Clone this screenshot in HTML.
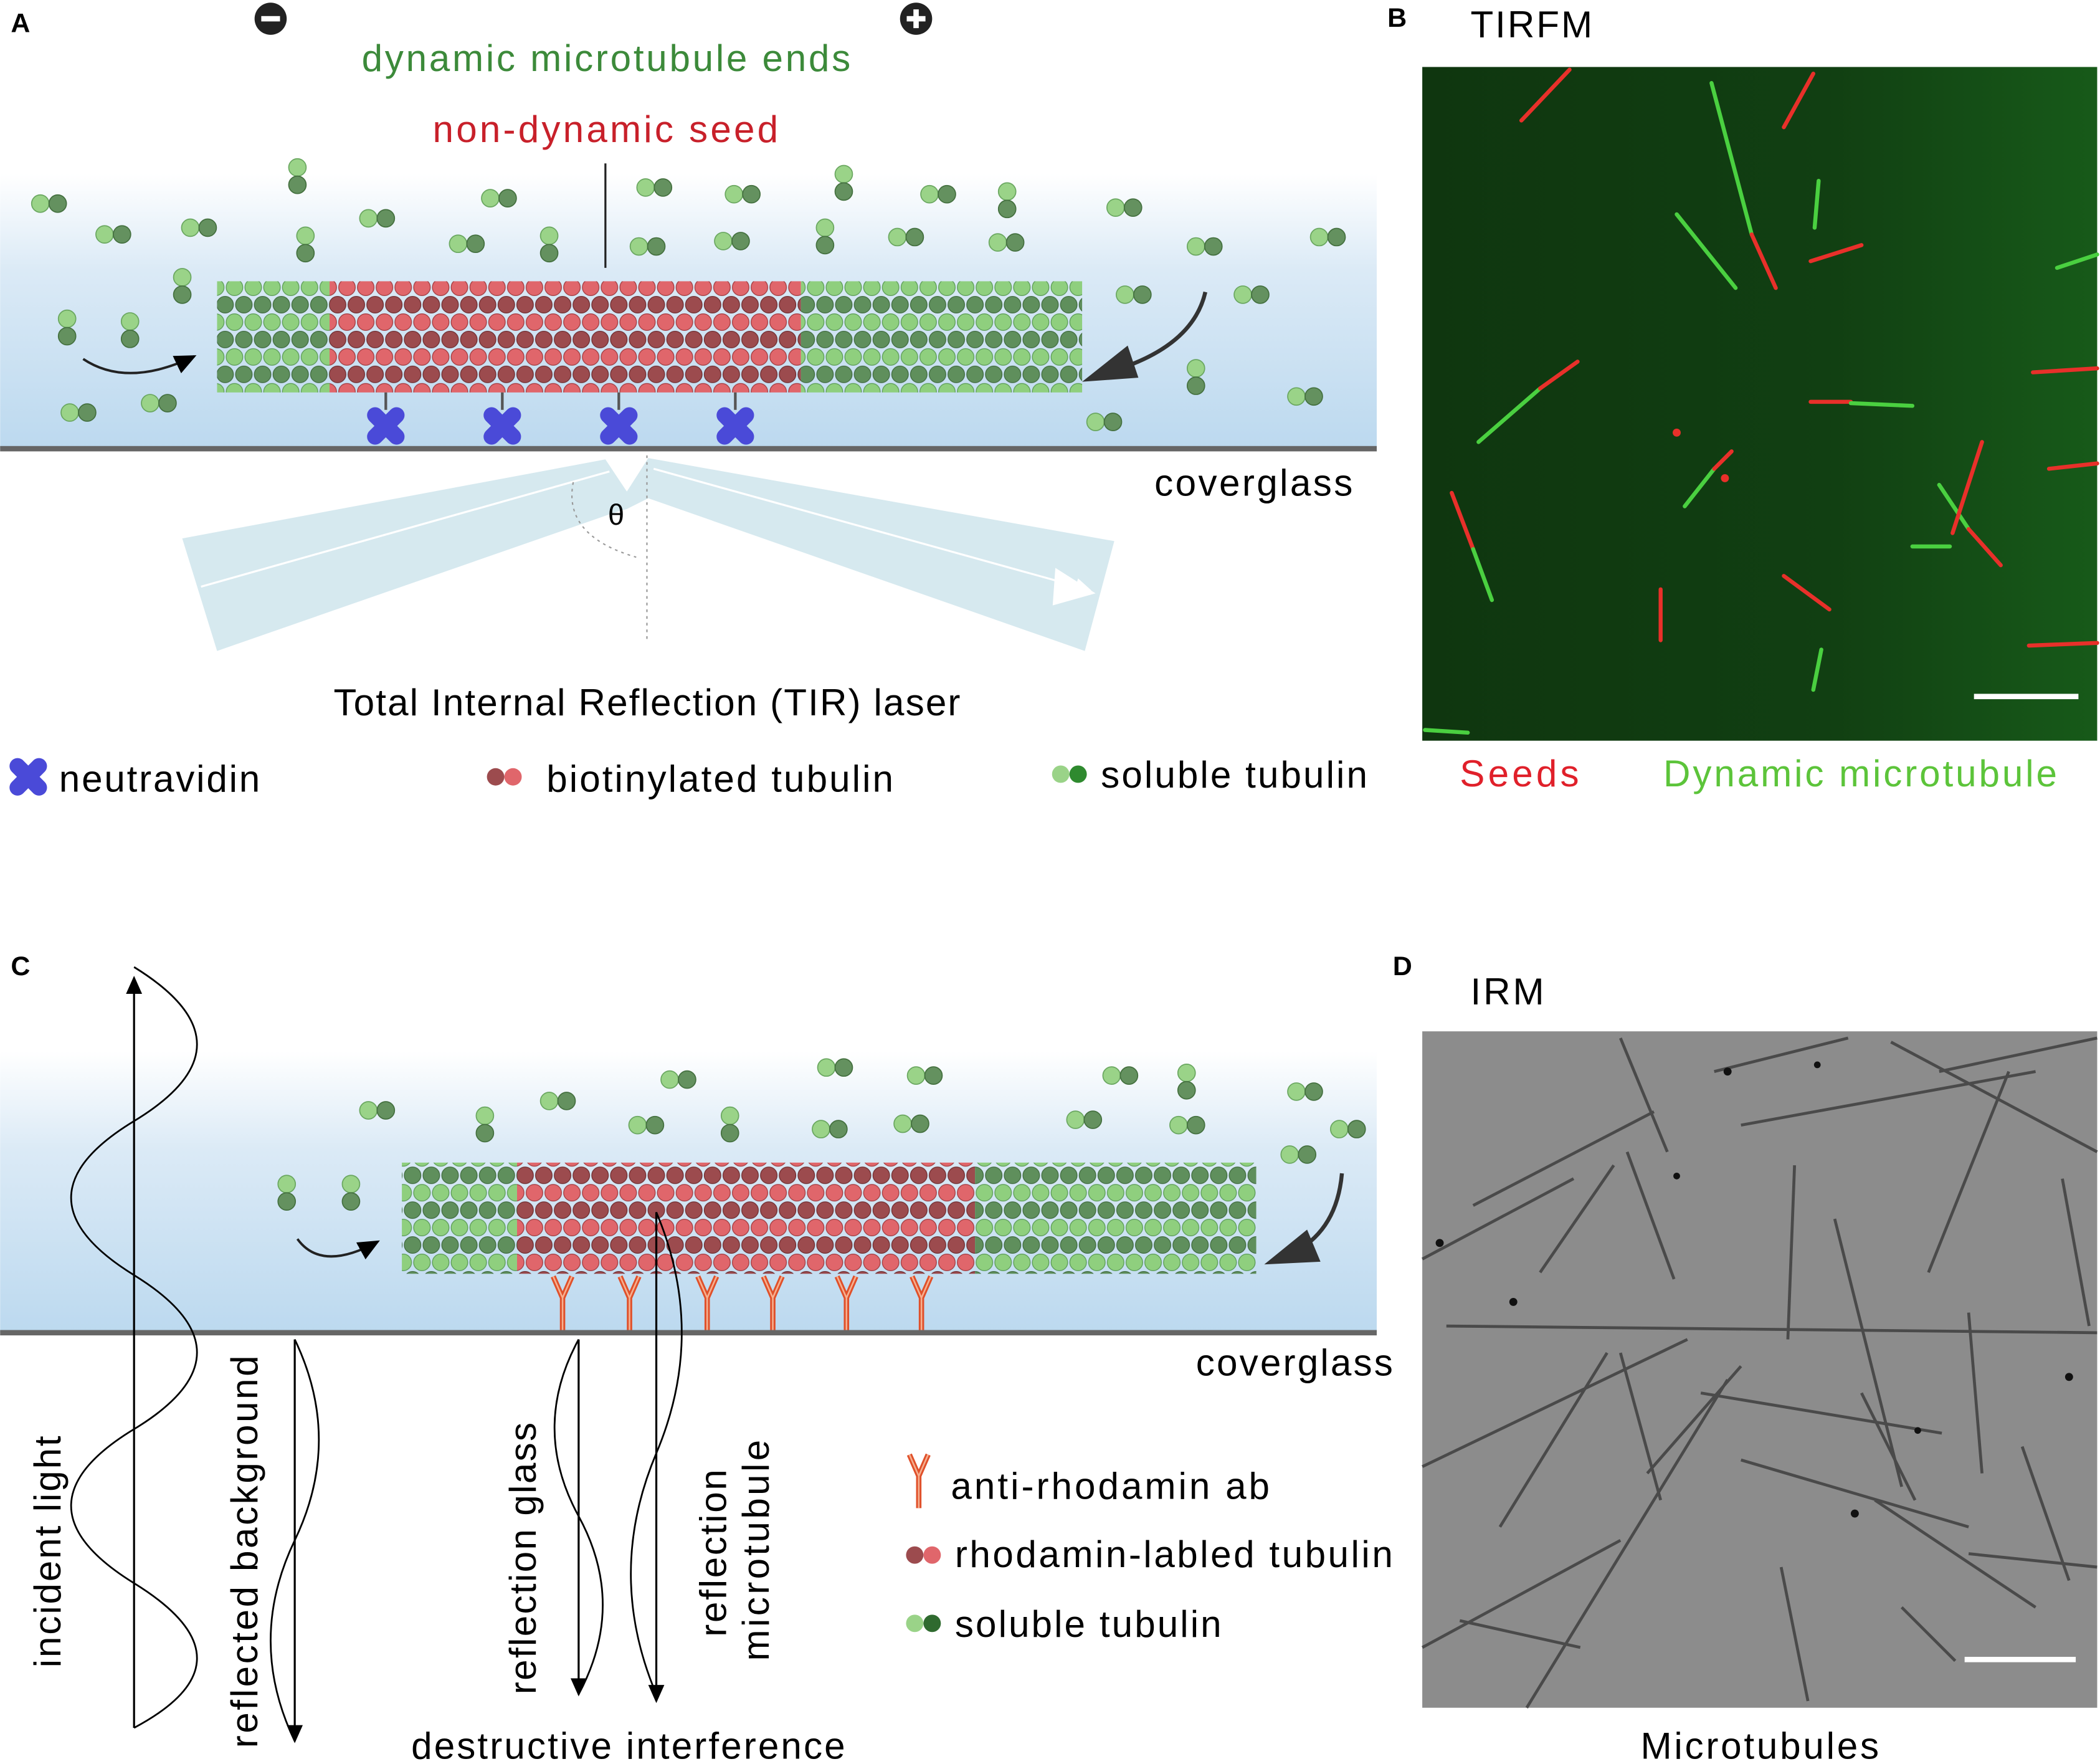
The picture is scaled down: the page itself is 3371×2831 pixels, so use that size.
<!DOCTYPE html>
<html><head><meta charset="utf-8"><style>
html,body{margin:0;padding:0;background:#fff}
svg{display:block}
text{font-family:"Liberation Sans",sans-serif}
</style></head><body>
<svg width="3371" height="2831" viewBox="0 0 1568 1317" xmlns="http://www.w3.org/2000/svg">
<defs>
<linearGradient id="bg" x1="0" y1="0" x2="0" y2="1"><stop offset="0" stop-color="#ffffff"/><stop offset="0.35" stop-color="#dbeaf6"/><stop offset="1" stop-color="#bcd9ef"/></linearGradient>
<linearGradient id="tg" x1="0" y1="0" x2="1" y2="0"><stop offset="0" stop-color="#0f360f"/><stop offset="0.6" stop-color="#113f12"/><stop offset="1" stop-color="#175a19"/></linearGradient>
<pattern id="gp" width="14" height="26" patternUnits="userSpaceOnUse">
<circle cx="7" cy="6.5" r="6.2" fill="#8fcf7e" stroke="#5a9a55" stroke-width="0.6"/>
<circle cx="0" cy="19.5" r="6.2" fill="#5f8f5c" stroke="#3f6a3d" stroke-width="0.6"/>
<circle cx="14" cy="19.5" r="6.2" fill="#5f8f5c" stroke="#3f6a3d" stroke-width="0.6"/>
</pattern>
<pattern id="rp" width="14" height="26" patternUnits="userSpaceOnUse">
<circle cx="7" cy="6.5" r="6.2" fill="#e0666b" stroke="#a03a3e" stroke-width="0.6"/>
<circle cx="0" cy="19.5" r="6.2" fill="#9c4b4e" stroke="#6e2c2f" stroke-width="0.6"/>
<circle cx="14" cy="19.5" r="6.2" fill="#9c4b4e" stroke="#6e2c2f" stroke-width="0.6"/>
</pattern>
<g id="gpair"><circle cx="0" cy="0" r="6.5" fill="#9ad388" stroke="#6aa760" stroke-width="0.8"/><circle cx="13" cy="0" r="6.5" fill="#64915f" stroke="#44703f" stroke-width="0.8"/></g>
<g id="gpv"><circle cx="0" cy="0" r="6.5" fill="#9ad388" stroke="#6aa760" stroke-width="0.8"/><circle cx="0" cy="13" r="6.5" fill="#64915f" stroke="#44703f" stroke-width="0.8"/></g>
<g id="xav"><path d="M-8,-8 L8,8 M8,-8 L-8,8" stroke="#4a4ad8" stroke-width="12" stroke-linecap="round"/></g>
<g id="yab"><path d="M-7,-40 L0,-24 L7,-40 M0,-24 L0,0" stroke="#e0502a" stroke-width="4" fill="none"/><path d="M-7,-40 L0,-24 L7,-40 M0,-24 L0,0" stroke="#f6b090" stroke-width="1.2" fill="none"/></g>
<marker id="ah" markerWidth="10" markerHeight="10" refX="8" refY="5" orient="auto"><path d="M0,1 L9,5 L0,9 z" fill="#000"/></marker>
<marker id="ahw" markerWidth="8" markerHeight="8" refX="6" refY="4" orient="auto"><path d="M0,0 L8,4 L0,8 z" fill="#fff"/></marker>
</defs>

<!-- PANEL A -->
<text x="8" y="24" font-size="20" font-weight="bold">A</text>
<circle cx="202" cy="14" r="12" fill="#222"/><rect x="195" y="12" width="14" height="4" fill="#fff"/>
<circle cx="684" cy="14" r="12" fill="#222"/><rect x="677" y="12" width="14" height="4" fill="#fff"/><rect x="682" y="7" width="4" height="14" fill="#fff"/>
<text x="270" y="53" font-size="28" fill="#3c8a3a" textLength="365">dynamic microtubule ends</text>
<text x="323" y="106" font-size="28" fill="#c8202a" textLength="258">non-dynamic seed</text>
<rect x="0" y="130" width="1028" height="205" fill="url(#bg)"/>
<line x1="452" y1="122" x2="452" y2="200" stroke="#222" stroke-width="1.5"/>
<rect x="162" y="210" width="84" height="83" fill="url(#gp)"/>
<rect x="246" y="210" width="352" height="83" fill="url(#rp)"/>
<rect x="598" y="210" width="210" height="83" fill="url(#gp)"/>
<rect x="0" y="333" width="1028" height="4" fill="#666"/>
<g stroke="#555" stroke-width="2"><line x1="288" y1="293" x2="288" y2="306"/><line x1="375" y1="293" x2="375" y2="306"/><line x1="462" y1="293" x2="462" y2="306"/><line x1="549" y1="293" x2="549" y2="306"/></g>
<use href="#xav" x="288" y="318"/><use href="#xav" x="375" y="318"/><use href="#xav" x="462" y="318"/><use href="#xav" x="549" y="318"/>
<g>
<use href="#gpair" x="30" y="152"/><use href="#gpair" x="78" y="175"/><use href="#gpair" x="142" y="170"/><use href="#gpv" x="222" y="125"/><use href="#gpv" x="228" y="176"/><use href="#gpair" x="275" y="163"/><use href="#gpair" x="366" y="148"/><use href="#gpair" x="342" y="182"/><use href="#gpv" x="410" y="176"/><use href="#gpair" x="482" y="140"/><use href="#gpair" x="477" y="184"/><use href="#gpair" x="548" y="145"/><use href="#gpair" x="540" y="180"/><use href="#gpv" x="630" y="130"/><use href="#gpv" x="616" y="170"/><use href="#gpair" x="694" y="145"/><use href="#gpair" x="670" y="177"/><use href="#gpv" x="752" y="143"/><use href="#gpair" x="745" y="181"/><use href="#gpair" x="833" y="155"/><use href="#gpair" x="893" y="184"/><use href="#gpair" x="985" y="177"/><use href="#gpair" x="928" y="220"/><use href="#gpair" x="840" y="220"/><use href="#gpv" x="893" y="275"/><use href="#gpair" x="968" y="296"/><use href="#gpair" x="818" y="315"/><use href="#gpair" x="52" y="308"/><use href="#gpair" x="112" y="301"/><use href="#gpv" x="50" y="238"/><use href="#gpv" x="97" y="240"/><use href="#gpv" x="136" y="207"/>
</g>
<path d="M62,268 Q95,290 145,266" stroke="#222" stroke-width="1.8" fill="none" marker-end="url(#ah)"/>
<path d="M900,218 Q890,262 820,280" stroke="#333" stroke-width="3" fill="none"/>
<path d="M808,285 L842,258 L850,282 z" fill="#333"/>
<polygon points="136,402 452,343 468,367 484,342 832,404 810,486 484,372 468,380 458,383 162,486" fill="#d6e9ef"/>
<line x1="150" y1="438" x2="455" y2="352" stroke="#fff" stroke-width="1.5"/>
<line x1="488" y1="350" x2="812" y2="440" stroke="#fff" stroke-width="1.5" marker-end="url(#ahw)"/>
<polygon points="788,424 818,443 786,452" fill="#fff"/>
<line x1="483" y1="340" x2="483" y2="478" stroke="#999" stroke-width="1" stroke-dasharray="2,3"/>
<path d="M428,360 Q420,400 475,416" stroke="#999" stroke-width="1" fill="none" stroke-dasharray="2,3"/>
<text x="460" y="392" font-size="22" text-anchor="middle">θ</text>
<text x="862" y="370" font-size="28" textLength="148">coverglass</text>
<text x="249" y="534" font-size="28" textLength="468">Total Internal Reflection (TIR) laser</text>
<use href="#xav" x="21" y="580"/>
<text x="44" y="591" font-size="28" textLength="150">neutravidin</text>
<circle cx="370" cy="580" r="6.5" fill="#9c4b4e"/><circle cx="383" cy="580" r="6.5" fill="#e0666b"/>
<text x="408" y="591" font-size="28" textLength="259">biotinylated tubulin</text>
<circle cx="792" cy="578" r="6.5" fill="#9ad388"/><circle cx="805" cy="578" r="6.5" fill="#2f8a2f"/>
<text x="822" y="588" font-size="28" textLength="199">soluble tubulin</text>

<!-- PANEL B -->
<text x="1036" y="20" font-size="20" font-weight="bold">B</text>
<text x="1098" y="28" font-size="28" textLength="91">TIRFM</text>
<rect x="1062" y="50" width="504" height="503" fill="url(#tg)"/>
<g stroke-width="3" stroke-linecap="round">
<line x1="1136" y1="90" x2="1172" y2="52" stroke="#e8302a"/>
<line x1="1278" y1="62" x2="1308" y2="175" stroke="#4ad040"/><line x1="1308" y1="175" x2="1326" y2="215" stroke="#e8302a"/>
<line x1="1332" y1="95" x2="1354" y2="55" stroke="#e8302a"/>
<line x1="1252" y1="160" x2="1296" y2="215" stroke="#4ad040"/>
<line x1="1358" y1="135" x2="1355" y2="170" stroke="#4ad040"/>
<line x1="1352" y1="195" x2="1390" y2="183" stroke="#e8302a"/>
<line x1="1536" y1="200" x2="1566" y2="190" stroke="#4ad040"/>
<line x1="1104" y1="330" x2="1150" y2="290" stroke="#4ad040"/><line x1="1150" y1="290" x2="1178" y2="270" stroke="#e8302a"/>
<line x1="1352" y1="300" x2="1382" y2="300" stroke="#e8302a"/><line x1="1382" y1="301" x2="1428" y2="303" stroke="#4ad040"/>
<line x1="1258" y1="378" x2="1280" y2="350" stroke="#4ad040"/><line x1="1280" y1="350" x2="1293" y2="337" stroke="#e8302a"/>
<line x1="1084" y1="368" x2="1100" y2="410" stroke="#e8302a"/><line x1="1100" y1="410" x2="1114" y2="448" stroke="#4ad040"/>
<line x1="1448" y1="362" x2="1470" y2="395" stroke="#4ad040"/><line x1="1470" y1="395" x2="1494" y2="422" stroke="#e8302a"/>
<line x1="1458" y1="398" x2="1480" y2="330" stroke="#e8302a"/>
<line x1="1428" y1="408" x2="1456" y2="408" stroke="#4ad040"/>
<line x1="1332" y1="430" x2="1366" y2="455" stroke="#e8302a"/>
<line x1="1240" y1="440" x2="1240" y2="478" stroke="#e8302a"/>
<line x1="1354" y1="515" x2="1360" y2="485" stroke="#4ad040"/>
<line x1="1064" y1="545" x2="1096" y2="547" stroke="#4ad040"/>
<line x1="1515" y1="482" x2="1566" y2="480" stroke="#e8302a"/>
<line x1="1530" y1="350" x2="1566" y2="346" stroke="#e8302a"/>
<line x1="1518" y1="278" x2="1566" y2="275" stroke="#e8302a"/>
</g>
<circle cx="1252" cy="323" r="3" fill="#e8302a"/><circle cx="1288" cy="357" r="3" fill="#e8302a"/>
<rect x="1474" y="518" width="78" height="4" fill="#fff"/>
<text x="1090" y="587" font-size="28" fill="#e0202a" textLength="89">Seeds</text>
<text x="1242" y="587" font-size="28" fill="#5cc43a" textLength="294">Dynamic microtubule</text>

<!-- PANEL C -->
<text x="8" y="728" font-size="20" font-weight="bold">C</text>
<rect x="0" y="785" width="1028" height="210" fill="url(#bg)"/>
<rect x="300" y="868" width="86" height="83" fill="url(#gp)"/>
<rect x="386" y="868" width="342" height="83" fill="url(#rp)"/>
<rect x="728" y="868" width="210" height="83" fill="url(#gp)"/>
<rect x="0" y="993" width="1028" height="4" fill="#666"/>
<use href="#yab" x="420" y="993"/><use href="#yab" x="470" y="993"/><use href="#yab" x="528" y="993"/><use href="#yab" x="577" y="993"/><use href="#yab" x="632" y="993"/><use href="#yab" x="688" y="993"/>
<g>
<use href="#gpair" x="275" y="829"/><use href="#gpv" x="362" y="833"/><use href="#gpair" x="410" y="822"/><use href="#gpair" x="500" y="806"/><use href="#gpair" x="476" y="840"/><use href="#gpv" x="545" y="833"/><use href="#gpair" x="617" y="797"/><use href="#gpair" x="613" y="843"/><use href="#gpair" x="684" y="803"/><use href="#gpair" x="674" y="839"/><use href="#gpair" x="830" y="803"/><use href="#gpair" x="803" y="836"/><use href="#gpv" x="886" y="801"/><use href="#gpair" x="880" y="840"/><use href="#gpair" x="968" y="815"/><use href="#gpair" x="963" y="862"/><use href="#gpair" x="1000" y="843"/><use href="#gpv" x="214" y="884"/><use href="#gpv" x="262" y="884"/>
</g>
<path d="M222,925 Q240,950 282,927" stroke="#222" stroke-width="1.8" fill="none" marker-end="url(#ah)"/>
<path d="M1002,876 Q998,922 960,938" stroke="#333" stroke-width="3" fill="none"/>
<path d="M944,944 L976,918 L986,942 z" fill="#333"/>
<!-- waves -->
<line x1="100" y1="1290" x2="100" y2="730" stroke="#000" stroke-width="1.5" marker-end="url(#ah)"/>
<path d="M100,722 Q194,780 100,837 T100,952 T100,1067 T100,1182 T100,1290" stroke="#000" stroke-width="1.3" fill="none"/>
<line x1="220" y1="1000" x2="220" y2="1300" stroke="#000" stroke-width="1.5" marker-end="url(#ah)"/>
<path d="M220,1000 Q256,1075 220,1150 T220,1300" stroke="#000" stroke-width="1.3" fill="none"/>
<line x1="432" y1="1000" x2="432" y2="1265" stroke="#000" stroke-width="1.5" marker-end="url(#ah)"/>
<path d="M432,1000 Q396,1066 432,1132 T432,1265" stroke="#000" stroke-width="1.3" fill="none"/>
<line x1="490" y1="905" x2="490" y2="1270" stroke="#000" stroke-width="1.5" marker-end="url(#ah)"/>
<path d="M490,905 Q528,995 490,1085 T490,1265" stroke="#000" stroke-width="1.3" fill="none"/>
<text transform="translate(45,1245) rotate(-90)" font-size="28" textLength="173">incident light</text>
<text transform="translate(192,1305) rotate(-90)" font-size="28" textLength="293">reflected background</text>
<text transform="translate(400,1265) rotate(-90)" font-size="28" textLength="203">reflection glass</text>
<text transform="translate(542,1222) rotate(-90)" font-size="28" textLength="125">reflection</text>
<text transform="translate(574,1240) rotate(-90)" font-size="28" textLength="165">microtubule</text>
<text x="307" y="1313" font-size="28" textLength="324">destructive interference</text>
<text x="893" y="1027" font-size="28" textLength="147">coverglass</text>
<use href="#yab" x="686" y="1126"/>
<text x="710" y="1119" font-size="28" textLength="238">anti-rhodamin ab</text>
<circle cx="683" cy="1161" r="6.5" fill="#9c4b4e"/><circle cx="696" cy="1161" r="6.5" fill="#e0666b"/>
<text x="713" y="1170" font-size="28" textLength="327">rhodamin-labled tubulin</text>
<circle cx="683" cy="1212" r="6.5" fill="#9ad388"/><circle cx="696" cy="1212" r="6.5" fill="#2f6a2f"/>
<text x="713" y="1222" font-size="28" textLength="199">soluble tubulin</text>

<!-- PANEL D -->
<text x="1040" y="728" font-size="20" font-weight="bold">D</text>
<text x="1098" y="750" font-size="28" textLength="55">IRM</text>
<rect x="1062" y="770" width="504" height="505" fill="#8c8c8c"/>
<g stroke="#3a3a3a" stroke-width="2.2" opacity="0.8">
<line x1="1210" y1="775" x2="1245" y2="860"/><line x1="1062" y1="940" x2="1175" y2="880"/><line x1="1100" y1="900" x2="1235" y2="830"/>
<line x1="1280" y1="800" x2="1380" y2="775"/><line x1="1300" y1="840" x2="1520" y2="800"/><line x1="1412" y1="778" x2="1566" y2="860"/>
<line x1="1448" y1="800" x2="1566" y2="775"/><line x1="1215" y1="860" x2="1250" y2="955"/><line x1="1150" y1="950" x2="1205" y2="870"/>
<line x1="1080" y1="990" x2="1566" y2="995"/><line x1="1062" y1="1095" x2="1260" y2="1000"/><line x1="1120" y1="1140" x2="1200" y2="1010"/>
<line x1="1340" y1="870" x2="1335" y2="1000"/><line x1="1370" y1="910" x2="1420" y2="1110"/><line x1="1440" y1="950" x2="1500" y2="800"/>
<line x1="1470" y1="980" x2="1480" y2="1100"/><line x1="1270" y1="1040" x2="1450" y2="1070"/><line x1="1140" y1="1275" x2="1290" y2="1030"/>
<line x1="1062" y1="1230" x2="1210" y2="1150"/><line x1="1230" y1="1100" x2="1300" y2="1020"/><line x1="1300" y1="1090" x2="1470" y2="1140"/>
<line x1="1400" y1="1120" x2="1520" y2="1200"/><line x1="1470" y1="1160" x2="1566" y2="1170"/><line x1="1330" y1="1170" x2="1350" y2="1270"/>
<line x1="1420" y1="1200" x2="1460" y2="1240"/><line x1="1510" y1="1080" x2="1545" y2="1180"/><line x1="1540" y1="880" x2="1560" y2="990"/>
<line x1="1210" y1="1010" x2="1240" y2="1120"/><line x1="1390" y1="1040" x2="1430" y2="1120"/><line x1="1090" y1="1210" x2="1180" y2="1230"/>
</g>
<g fill="#111"><circle cx="1290" cy="800" r="3"/><circle cx="1357" cy="795" r="2.5"/><circle cx="1075" cy="928" r="3"/><circle cx="1130" cy="972" r="3"/><circle cx="1385" cy="1130" r="3"/><circle cx="1545" cy="1028" r="3"/><circle cx="1432" cy="1068" r="2.5"/><circle cx="1252" cy="878" r="2.5"/></g>
<rect x="1467" y="1237" width="83" height="4" fill="#fff"/>
<text x="1225" y="1313" font-size="28" textLength="178">Microtubules</text>
</svg>
</body></html>
